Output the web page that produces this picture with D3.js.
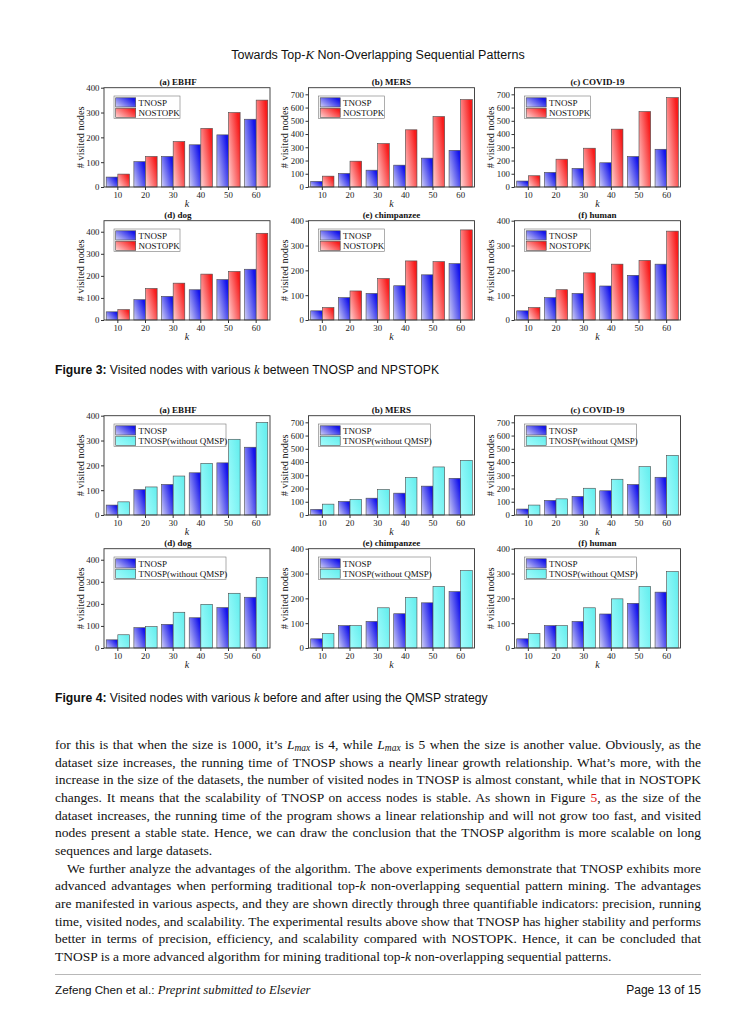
<!DOCTYPE html>
<html><head><meta charset="utf-8">
<script src="https://cdn.jsdelivr.net/npm/d3@7"></script>
<style>
body{margin:0;background:#fff;}
#page{position:relative;width:756px;height:1031px;overflow:hidden;background:#fff;}
svg{position:absolute;left:0;top:0;}
.pline{position:absolute;left:55px;width:646px;font-family:"Liberation Serif","Times New Roman",serif;font-size:13px;line-height:17.67px;height:17.67px;white-space:nowrap;text-align:justify;text-align-last:justify;color:#111;}
.pline.last{text-align-last:left;}
.pline sub{font-size:0.7em;vertical-align:-2px;line-height:0;}
.measure{position:absolute;left:0;top:-200px;white-space:nowrap;font-family:"Liberation Serif","Times New Roman",serif;font-size:13px;visibility:hidden;}
.measure sub{font-size:0.7em;vertical-align:-2px;line-height:0;}
</style></head><body><div id="page"></div>
<script>
// ---------- data ----------
const kValues = [10, 20, 30, 40, 50, 60];
const datasetTitles = ["(a) EBHF", "(b) MERS", "(c) COVID-19", "(d) dog", "(e) chimpanzee", "(f) human"];
const yMaxima = [400, 750, 750, 450, 400, 400];
const yTicksFour = [0, 100, 200, 300, 400];
const yTicksSeven = [0, 100, 200, 300, 400, 500, 600, 700];

const tnospEBHF = [40, 102, 123, 170, 210, 273];
const tnospMERS = [42, 102, 127, 165, 218, 277];
const tnospCOVID = [45, 110, 140, 183, 230, 285];
const tnospDog = [37, 92, 107, 137, 183, 230];
const tnospChimp = [37, 90, 107, 138, 182, 227];
const tnospHuman = [37, 90, 107, 137, 180, 225];

const nostopkEBHF = [52, 123, 183, 236, 300, 350];
const nostopkMERS = [82, 195, 328, 432, 532, 660];
const nostopkCOVID = [85, 210, 293, 437, 570, 675];
const nostopkDog = [47, 143, 167, 208, 220, 393];
const nostopkChimp = [50, 117, 167, 238, 235, 363];
const nostopkHuman = [50, 122, 190, 225, 240, 358];

const noQmspEBHF = [53, 113, 157, 208, 305, 373];
const noQmspMERS = [82, 118, 192, 283, 363, 413];
const noQmspCOVID = [75, 122, 202, 270, 365, 450];
const noQmspDog = [60, 97, 162, 198, 248, 320];
const noQmspChimp = [58, 90, 162, 203, 248, 312];
const noQmspHuman = [58, 90, 162, 198, 248, 308];

const fig3Series = ["TNOSP", "NOSTOPK"];
const fig4Series = ["TNOSP", "TNOSP(without QMSP)"];

// ---------- layout ----------
const W = 756, H = 1031;
const colLeft = [104, 308.5, 514.5];
const titleShift = [-9, 0, 0];
const plotW = 166, plotH = 99.3;
const fig3Tops = [87.7, 220.7];
const fig4Tops = [415.7, 548.7];

const page = d3.select("#page");
const svg = page.append("svg").attr("width", W).attr("height", H);
const defs = svg.append("defs");

function grad(id, c0, c1) {
  const g = defs.append("linearGradient").attr("id", id)
    .attr("x1", 0).attr("y1", 1).attr("x2", 1).attr("y2", 0.35);
  g.append("stop").attr("offset", "0%").attr("stop-color", c0);
  g.append("stop").attr("offset", "100%").attr("stop-color", c1);
}
grad("gBlue", "#d2d2f4", "#1414ec");
grad("gRed", "#ffd6d6", "#f81c1c");
grad("gCyan", "#a4fcfc", "#6aefef");
const fills3 = ["url(#gBlue)", "url(#gRed)"];
const fills4 = ["url(#gBlue)", "url(#gCyan)"];

const serif = "'Liberation Serif','Times New Roman',serif";
const sans = "'Liberation Sans','DejaVu Sans',sans-serif";

function drawChart(left, top, titleIdx, series, names, fills, col) {
  const g = svg.append("g").attr("transform", `translate(${left},${top})`);
  const x = d3.scaleBand().domain(kValues).range([0, plotW]).padding(0);
  const bw = x.bandwidth();
  const xs = d3.scaleBand().domain([0, 1]).range([bw * 0.08, bw * 0.92]).padding(0);
  const yMax = yMaxima[titleIdx];
  const y = d3.scaleLinear().domain([0, yMax]).range([plotH, 0]);
  const ticks = yMax > 500 ? yTicksSeven : yTicksFour;

  series.forEach((vals, si) => {
    g.selectAll(null).data(vals).enter().append("rect")
      .attr("x", (d, i) => x(kValues[i]) + xs(si))
      .attr("y", d => y(d))
      .attr("width", xs.bandwidth())
      .attr("height", d => plotH - y(d))
      .attr("fill", fills[si])
      .attr("stroke", "#4a4a4a").attr("stroke-width", 0.6);
  });

  g.append("rect").attr("x", 0).attr("y", 0).attr("width", plotW).attr("height", plotH)
    .attr("fill", "none").attr("stroke", "#333").attr("stroke-width", 0.9);

  const ya = g.append("g").call(d3.axisLeft(y).tickValues(ticks).tickSize(3).tickPadding(1.5).tickFormat(d3.format("d")));
  ya.select(".domain").remove();
  ya.selectAll("line").attr("stroke", "#333");
  ya.selectAll("text").attr("font-family", serif).attr("font-size", 8.8).attr("fill", "#222");

  const xa = g.append("g").attr("transform", `translate(0,${plotH})`)
    .call(d3.axisBottom(x).tickSize(3).tickPadding(2));
  xa.select(".domain").remove();
  xa.selectAll("line").attr("stroke", "#333");
  xa.selectAll("text").attr("font-family", serif).attr("font-size", 8.8).attr("fill", "#222");

  g.append("text").attr("x", plotW / 2 + titleShift[col]).attr("y", -3)
    .attr("text-anchor", "middle").attr("font-family", serif).attr("font-weight", "bold")
    .attr("font-size", 9).attr("fill", "#111").text(datasetTitles[titleIdx]);

  g.append("text").attr("transform", `translate(-24,${plotH / 2}) rotate(-90)`)
    .attr("text-anchor", "middle").attr("dy", "0.35em").attr("font-family", serif)
    .attr("font-size", 10.3).attr("fill", "#222").text("# visited nodes");
  g.append("text").attr("x", plotW / 2).attr("y", plotH + 20.5)
    .attr("text-anchor", "middle").attr("font-family", serif).attr("font-style", "italic")
    .attr("font-size", 10).attr("fill", "#222").text("k");

  const lw = names[1].length > 10 ? 112 : 66;
  const lg = g.append("g").attr("transform", "translate(10,8.3)");
  lg.append("rect").attr("width", lw).attr("height", 22.6).attr("fill", "#fff")
    .attr("stroke", "#777").attr("stroke-width", 0.6);
  names.forEach((n, i) => {
    lg.append("rect").attr("x", 1.7).attr("y", 1.8 + i * 10.4).attr("width", 20).attr("height", 9.2)
      .attr("fill", fills[i]).attr("stroke", "#4a4a4a").attr("stroke-width", 0.6);
    lg.append("text").attr("x", 24.5).attr("y", 9.6 + i * 10.4).attr("font-family", serif)
      .attr("font-size", 9).attr("fill", "#111").text(n);
  });
}

const fig3Data = [
  [tnospEBHF, nostopkEBHF], [tnospMERS, nostopkMERS], [tnospCOVID, nostopkCOVID],
  [tnospDog, nostopkDog], [tnospChimp, nostopkChimp], [tnospHuman, nostopkHuman]
];
const fig4Data = [
  [tnospEBHF, noQmspEBHF], [tnospMERS, noQmspMERS], [tnospCOVID, noQmspCOVID],
  [tnospDog, noQmspDog], [tnospChimp, noQmspChimp], [tnospHuman, noQmspHuman]
];
fig3Data.forEach((s, i) => drawChart(colLeft[i % 3], fig3Tops[Math.floor(i / 3)], i, s, fig3Series, fills3, i % 3));
fig4Data.forEach((s, i) => drawChart(colLeft[i % 3], fig4Tops[Math.floor(i / 3)], i, s, fig4Series, fills4, i % 3));

// ---------- page text ----------
const header = svg.append("text").attr("x", 378).attr("y", 59).attr("text-anchor", "middle")
  .attr("font-family", sans).attr("font-size", 12.5).attr("fill", "#111");
header.append("tspan").text("Towards Top-");
header.append("tspan").attr("font-style", "italic").attr("font-family", serif).attr("font-size", 13).text("K");
header.append("tspan").text(" Non-Overlapping Sequential Patterns");

function caption(y, num, pre, post) {
  const t = svg.append("text").attr("x", 55).attr("y", y).attr("font-family", sans)
    .attr("font-size", 12.2).attr("fill", "#111");
  t.append("tspan").attr("font-weight", "bold").text(`Figure ${num}:`);
  t.append("tspan").text(" " + pre + " ");
  t.append("tspan").attr("font-style", "italic").attr("font-family", serif).attr("font-size", 12.6).text("k");
  t.append("tspan").text(" " + post);
}
caption(373.5, 3, "Visited nodes with various", "between TNOSP and NPSTOPK");
caption(701.5, 4, "Visited nodes with various", "before and after using the QMSP strategy");

const paraLines = [
  "for this is that when the size is 1000, it’s <i>L</i><sub><i>max</i></sub> is 4, while <i>L</i><sub><i>max</i></sub> is 5 when the size is another value. Obviously, as the",
  "dataset size increases, the running time of TNOSP shows a nearly linear growth relationship. What’s more, with the",
  "increase in the size of the datasets, the number of visited nodes in TNOSP is almost constant, while that in NOSTOPK",
  "changes. It means that the scalability of TNOSP on access nodes is stable. As shown in Figure <span style=\"color:#e01010\">5</span>, as the size of the",
  "dataset increases, the running time of the program shows a linear relationship and will not grow too fast, and visited",
  "nodes present a stable state. Hence, we can draw the conclusion that the TNOSP algorithm is more scalable on long",
  "sequences and large datasets.",
  "We further analyze the advantages of the algorithm. The above experiments demonstrate that TNOSP exhibits more",
  "advanced advantages when performing traditional top-<i>k</i> non-overlapping sequential pattern mining. The advantages",
  "are manifested in various aspects, and they are shown directly through three quantifiable indicators: precision, running",
  "time, visited nodes, and scalability. The experimental results above show that TNOSP has higher stability and performs",
  "better in terms of precision, efficiency, and scalability compared with NOSTOPK. Hence, it can be concluded that",
  "TNOSP is a more advanced algorithm for mining traditional top-<i>k</i> non-overlapping sequential patterns."
];
const lastLines = [6, 12];
// fit the font so the widest justified line fills the column
const meas = page.append("span").attr("class", "measure");
let ratio = 10;
paraLines.forEach((l, i) => {
  if (lastLines.includes(i)) return;
  meas.html(l);
  const avail = i === 7 ? 634 : 646;
  ratio = Math.min(ratio, avail / meas.node().getBoundingClientRect().width);
});
meas.remove();
const paraFont = Math.min(13 * ratio * 0.997, 13.6);
paraLines.forEach((l, i) => {
  const d = page.append("div").attr("class", "pline" + (lastLines.includes(i) ? " last" : ""))
    .style("font-size", paraFont + "px")
    .style("top", (745 + i * 17.67 - 8.9) + "px").html(l);
  if (i === 7) d.style("left", "67px").style("width", "634px");
});

// footer
svg.append("line").attr("x1", 55).attr("x2", 701).attr("y1", 974.5).attr("y2", 974.5)
  .attr("stroke", "#888").attr("stroke-width", 0.6);
const ft = svg.append("text").attr("x", 55).attr("y", 994).attr("font-family", sans)
  .attr("font-size", 11.7).attr("fill", "#111");
ft.append("tspan").text("Zefeng Chen et al.: ");
ft.append("tspan").attr("font-family", serif).attr("font-style", "italic").attr("font-size", 12.7).text("Preprint submitted to Elsevier");
svg.append("text").attr("x", 701).attr("y", 994).attr("text-anchor", "end").attr("font-family", sans)
  .attr("font-size", 12).attr("fill", "#111").text("Page 13 of 15");
</script></body></html>
